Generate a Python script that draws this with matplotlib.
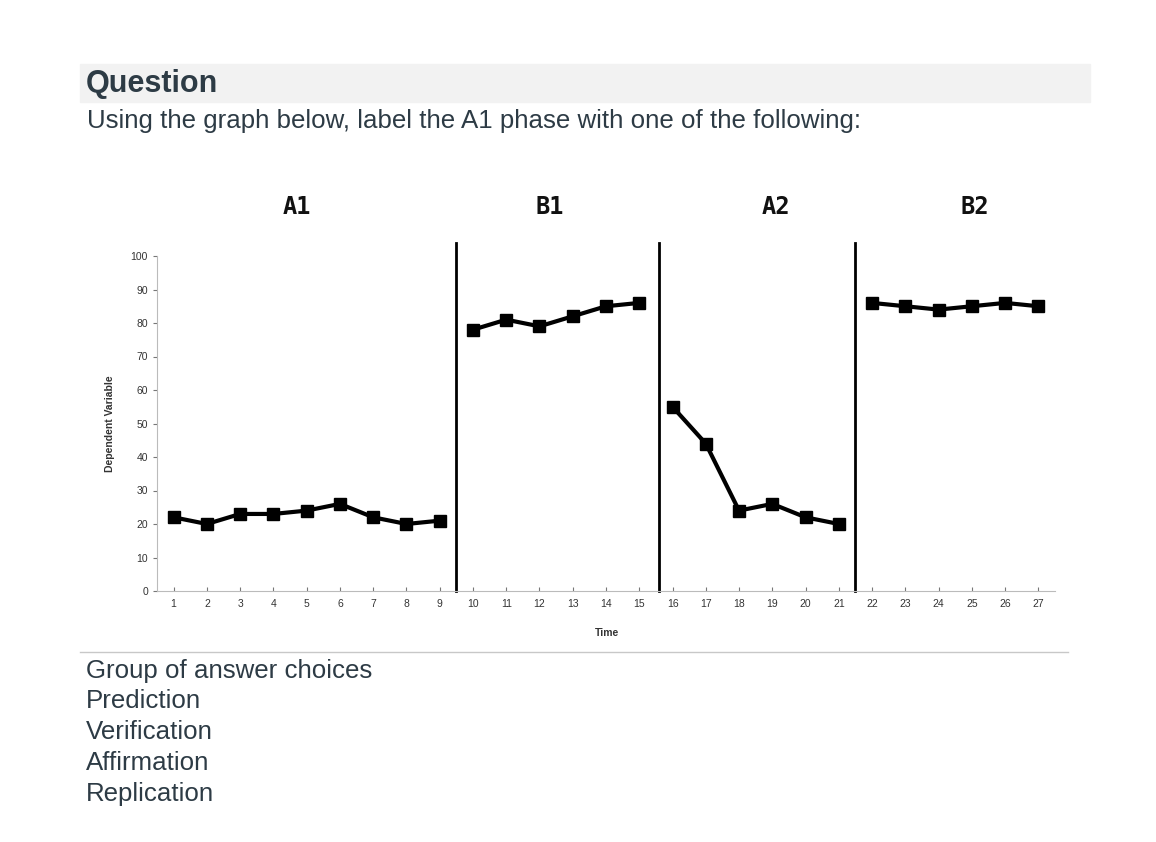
import numpy as np
import matplotlib
matplotlib.use("Agg")
import matplotlib.pyplot as plt
from matplotlib.patches import Rectangle
from matplotlib.lines import Line2D

# data
a1_x = [1, 2, 3, 4, 5, 6, 7, 8, 9]
a1_y = [22, 20, 23, 23, 24, 26, 22, 20, 21]
b1_x = [10, 11, 12, 13, 14, 15]
b1_y = [78, 81, 79, 82, 85, 86]
a2_x = [16, 17, 18, 19, 20, 21]
a2_y = [55, 44, 24, 26, 22, 20]
b2_x = [22, 23, 24, 25, 26, 27]
b2_y = [86, 85, 84, 85, 86, 85]

phase_names = ["A1", "B1", "A2", "B2"]
phase_label_x = [4.7, 12.3, 19.1, 25.1]
phase_lines = [9.5, 15.6, 21.5]

y_ticks = list(range(0, 101, 10))
x_ticks = list(range(1, 28))

choices = ["Prediction", "Verification", "Affirmation", "Replication"]

TXT = "#2d3b45"
W, H = 1156, 842

fig = plt.figure(figsize=(W / 100, H / 100), dpi=100)
plt.rcParams['font.family'] = ['Liberation Sans', 'DejaVu Sans']

# header band
fig.patches.append(Rectangle((80 / W, 1 - 102 / H), 1010 / W, 38 / H,
                             transform=fig.transFigure, color="#f2f2f2", zorder=0))
fig.text(86 / W, 1 - 84 / H, "Question", fontsize=22, fontweight="bold",
         color=TXT, va="center", ha="left")
fig.text(87 / W, 1 - 121 / H, "Using the graph below, label the A1 phase with one of the following:",
         fontsize=18.6, color=TXT, va="center", ha="left")

# chart
ax = fig.add_axes([157 / W, 1 - 591 / H, (1055 - 157) / W, (591 - 256) / H])
for xs, ys in [(a1_x, a1_y), (b1_x, b1_y), (a2_x, a2_y), (b2_x, b2_y)]:
    ax.plot(xs, ys, color="black", lw=3, marker="s", ms=9, clip_on=False, zorder=3)

for xl in phase_lines:
    ax.plot([xl, xl], [0, 104], color="black", lw=2, clip_on=False, zorder=2)

for name, xp in zip(phase_names, phase_label_x):
    ax.text(xp, 114.5, name, fontsize=17, fontweight="bold", family="DejaVu Sans Mono",
            ha="center", va="center", color="#111111")

ax.set_xlim(0.5, 27.5)
ax.set_ylim(0, 100)
ax.set_xticks(x_ticks)
ax.set_yticks(y_ticks)
ax.tick_params(axis="both", labelsize=7.5, colors="#777777", length=3, width=0.8)
ax.tick_params(axis="x", direction="in", pad=6)
for lbl in ax.get_xticklabels() + ax.get_yticklabels():
    lbl.set_color("#333333")
for s in ["top", "right"]:
    ax.spines[s].set_visible(False)
ax.spines["left"].set_color("#bbbbbb")
ax.spines["bottom"].set_color("#bbbbbb")
ax.set_xlabel("Time", fontsize=7.5, fontweight="bold", color="#333333")
ax.xaxis.set_label_coords((607 - 157) / (1055 - 157), -(628 - 591) / (591 - 256))
ax.set_ylabel("Dependent Variable", fontsize=7.5, fontweight="bold", color="#333333")
ax.yaxis.set_label_coords(-(157 - 115) / (1055 - 157), 0.5)

# separator line
fig.add_artist(Line2D([80 / W, 1068 / W], [1 - 652 / H, 1 - 652 / H],
                      transform=fig.transFigure, color="#c8c8c8", lw=1))

fig.text(86 / W, 1 - 671 / H, "Group of answer choices", fontsize=18.6,
         color=TXT, va="center", ha="left")
for i, c in enumerate(choices):
    fig.text(86 / W, 1 - (701 + i * 31) / H, c, fontsize=18.6,
             color=TXT, va="center", ha="left")

fig.savefig("out.png", dpi=100)
